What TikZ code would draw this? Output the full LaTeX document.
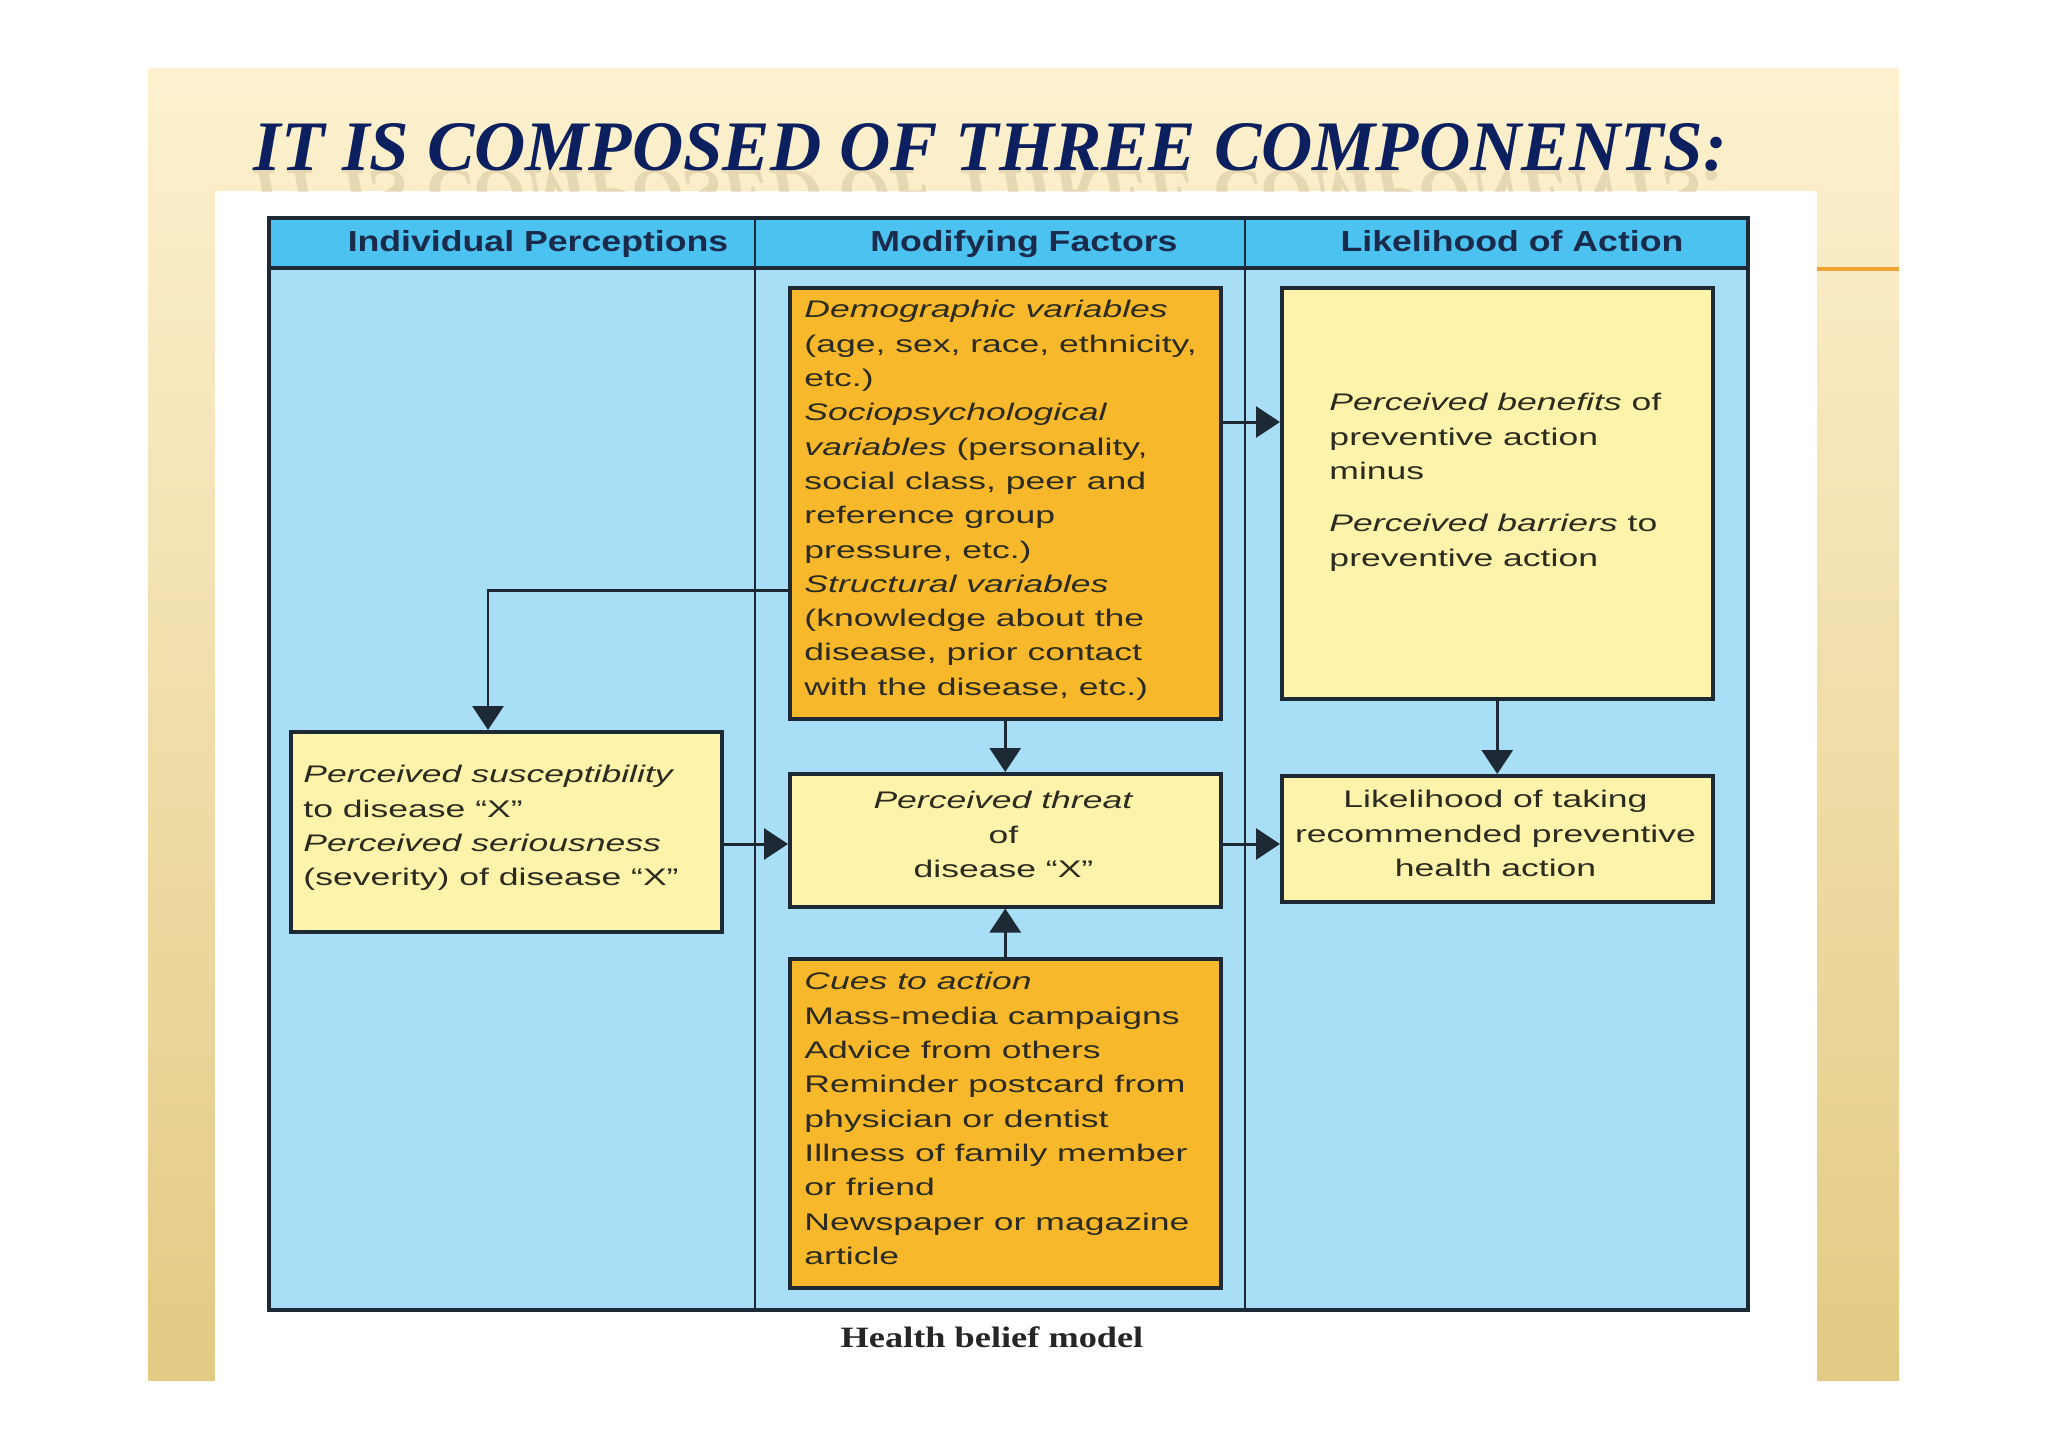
\documentclass[tikz,border=0pt]{standalone}
\usepackage{fontspec}
\setmainfont{Liberation Sans}
\newfontfamily\boxfont[FakeStretch=1.48]{Liberation Sans}
\newfontfamily\headfont[FakeStretch=1.23]{Liberation Sans}
\newfontfamily\titlefont{Liberation Serif}
\newfontfamily\capfont[FakeStretch=1.23]{Liberation Serif}
\usetikzlibrary{arrows.meta}

\definecolor{cream}{HTML}{FDF1CF}
\definecolor{creammid}{HTML}{F7E4AC}
\definecolor{tan}{HTML}{E3CA84}
\definecolor{rule}{HTML}{F0A234}
\definecolor{navy}{HTML}{0C1F5E}
\definecolor{hdblue}{HTML}{4BC2EF}
\definecolor{bodyblue}{HTML}{A9DEF7}
\definecolor{orng}{HTML}{F8B82C}
\definecolor{pale}{HTML}{FDF3AB}
\definecolor{edge}{HTML}{1D2A36}
\definecolor{ink}{HTML}{2B2B1F}
\definecolor{hdink}{HTML}{1A2A4A}

\begin{document}
\begin{tikzpicture}[line width=0.85pt,>={Triangle[length=0.24cm,width=0.31cm]},
  panel/.style={draw=edge,line width=1pt,anchor=north west,inner sep=0pt,minimum width=4.31cm},
  boxtext/.style={anchor=north west,inner sep=0pt,align=left,text=ink,
    font=\boxfont\fontsize{6.83}{9.76}\selectfont},
  midtext/.style={boxtext,anchor=north,align=center},
  headtext/.style={anchor=base,inner sep=0pt,text=hdink,font=\headfont\bfseries\fontsize{8.25}{10}\selectfont},
  link/.style={draw=edge,->}]
\useasboundingbox (0,0) rectangle (20.48,-14.48);
\fill[white] (0,0) rectangle (20.48,-14.48);
% slide background
\shade[top color=cream,middle color=creammid,bottom color=tan] (1.48,-0.68) rectangle (18.99,-13.80);
\fill[white] (2.15,-1.91) rectangle (18.17,-14.48);
\draw[rule,line width=1.1pt] (18.17,-2.69) -- (18.99,-2.69);
% title and its reflection
\node[anchor=base west,inner sep=0pt,text=navy,font=\titlefont\bfseries\itshape\fontsize{20.2}{24}\selectfont]
  (title) at (2.52,-1.70) {IT IS COMPOSED OF THREE COMPONENTS:};
\begin{scope}
\clip (1.48,-1.70) rectangle (18.99,-1.91);
\node[anchor=base west,inner sep=0pt,yscale=-1,text=navy!25!tan,text opacity=0.28,
  font=\titlefont\bfseries\itshape\fontsize{20.2}{24}\selectfont]
  (echo) at (2.52,-1.70) {IT IS COMPOSED OF THREE COMPONENTS:};
\end{scope}
% table frame
\fill[bodyblue] (2.69,-2.18) rectangle (17.48,-13.10);
\fill[hdblue] (2.69,-2.18) rectangle (17.48,-2.68);
\draw[edge,line width=1.1pt] (2.69,-2.68) -- (17.48,-2.68);
\draw[edge] (7.55,-2.18) -- (7.55,-13.10);
\draw[edge] (12.45,-2.18) -- (12.45,-13.10);
\draw[edge,line width=1.1pt] (2.69,-2.18) rectangle (17.48,-13.10);
\node[headtext] (indiv) at (5.38,-2.51) {Individual Perceptions};
\node[headtext] (modif) at (10.24,-2.51) {Modifying Factors};
\node[headtext] (likeli) at (15.12,-2.51) {Likelihood of Action};
% boxes
\node[panel,fill=orng,minimum height=4.31cm] (demog) at (7.88,-2.86) {};
\node[panel,fill=pale,minimum height=4.11cm] (benef) at (12.80,-2.86) {};
\node[panel,fill=pale,minimum height=2.00cm] (suscept) at (2.89,-7.30) {};
\node[panel,fill=pale,minimum height=1.33cm] (threat) at (7.88,-7.72) {};
\node[panel,fill=pale,minimum height=1.26cm] (likely) at (12.80,-7.74) {};
\node[panel,fill=orng,minimum height=3.29cm] (cues) at (7.88,-9.57) {};
% box texts
\node[boxtext] (demogtxt) at (8.03,-2.99) {\textit{Demographic variables}\\(age, sex, race, ethnicity,\\etc.)\\
  \textit{Sociopsychological}\\\textit{variables} (personality,\\social class, peer and\\reference group\\pressure, etc.)\\
  \textit{Structural variables}\\(knowledge about the\\disease, prior contact\\with the disease, etc.)};
\node[boxtext] (beneftxt) at (13.28,-3.92) {\textit{Perceived benefits} of\\preventive action\\minus\\[0.18cm]
  \textit{Perceived barriers} to\\preventive action};
\node[boxtext] (suscepttxt) at (3.02,-7.64) {\textit{Perceived susceptibility}\\to disease “X”\\
  \textit{Perceived seriousness}\\(severity) of disease “X”};
\node[midtext] (threattxt) at (10.035,-7.90) {\textit{Perceived threat}\\of\\disease “X”};
\node[midtext] (likelytxt) at (14.955,-7.89) {Likelihood of taking\\recommended preventive\\health action};
\node[boxtext] (cuestxt) at (8.03,-9.71) {\textit{Cues to action}\\Mass-media campaigns\\Advice from others\\
  Reminder postcard from\\physician or dentist\\Illness of family member\\or friend\\Newspaper or magazine\\article};
% arrows
\coordinate (turn) at (4.88,-5.90);
\coordinate (benefy) at (12.50,-4.22);
\coordinate (midy) at (10.00,-8.44);
\draw[link] (turn -| demog.west) -- (turn) -- (turn |- suscept.north);
\draw[link] (demog.south) -- (threat.north);
\draw[link] (benefy -| demog.east) -- (benefy -| benef.west);
\draw[link] (benef.south) -- (likely.north);
\draw[link] (midy -| suscept.east) -- (midy -| threat.west);
\draw[link] (midy -| threat.east) -- (midy -| likely.west);
\draw[link] (cues.north) -- (threat.south);
% caption
\node[inner sep=0pt,text=black!85,font=\capfont\bfseries\fontsize{8.4}{10}\selectfont]
  (caption) at (9.92,-13.37) {Health belief model};
\end{tikzpicture}
\end{document}
